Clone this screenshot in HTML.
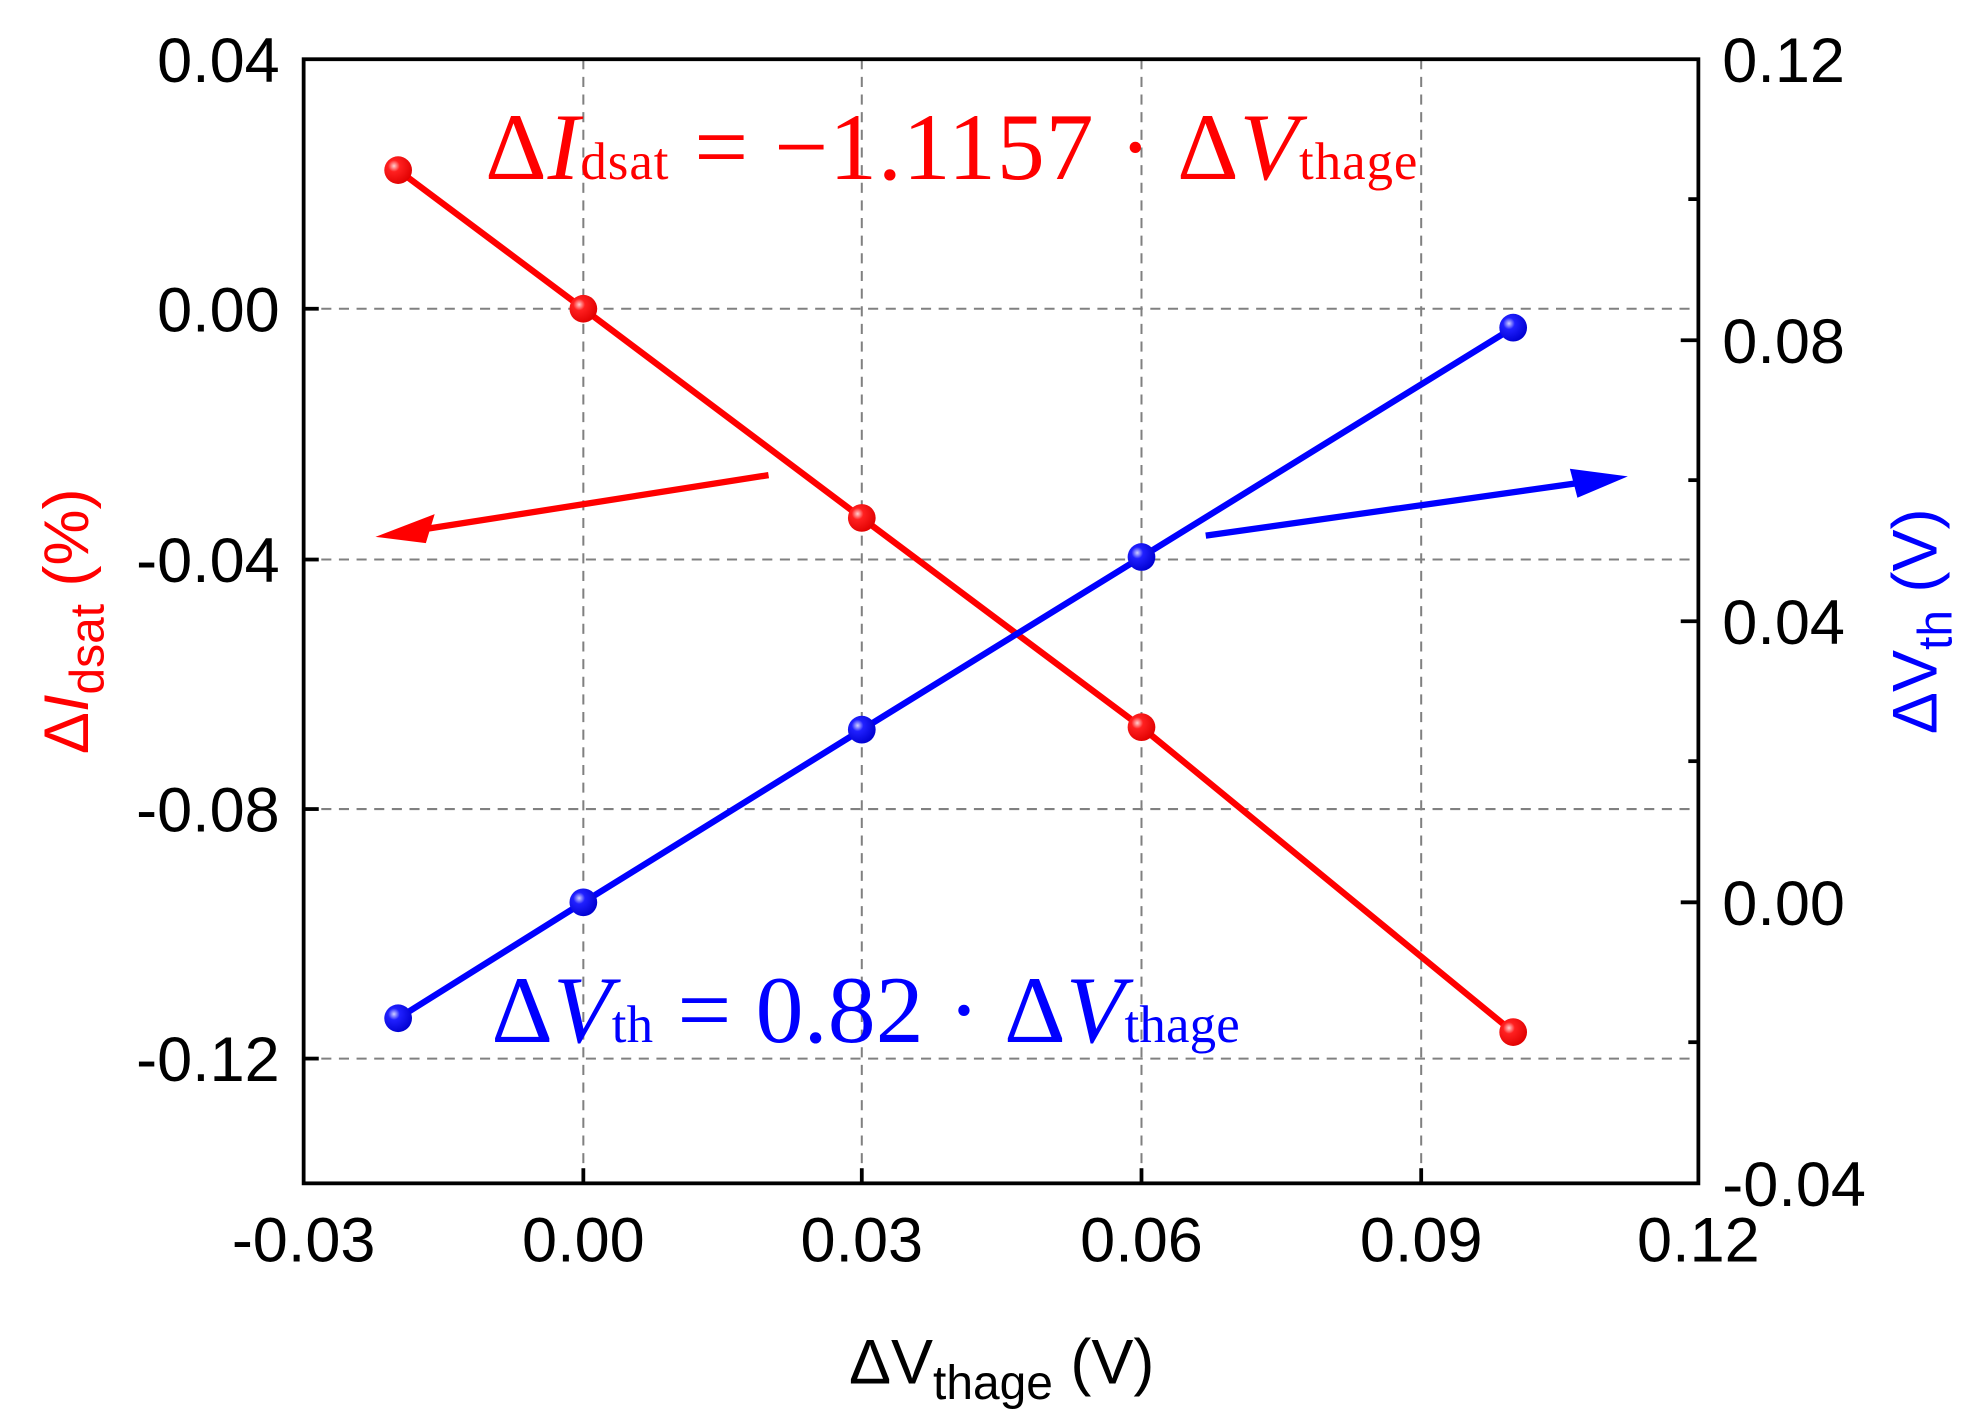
<!DOCTYPE html>
<html><head><meta charset="utf-8"><style>html,body{margin:0;padding:0;background:#fff}svg{display:block}</style></head>
<body>
<svg width="1968" height="1419" viewBox="0 0 1562 1126" preserveAspectRatio="none" xmlns="http://www.w3.org/2000/svg">
<defs>
<radialGradient id="gr" cx="0.35" cy="0.35" r="0.7"><stop offset="0" stop-color="#ffd0d0"/><stop offset="0.3" stop-color="#ff2020"/><stop offset="1" stop-color="#e00000"/></radialGradient>
<radialGradient id="gb" cx="0.35" cy="0.35" r="0.7"><stop offset="0" stop-color="#d0d0ff"/><stop offset="0.3" stop-color="#2020ff"/><stop offset="1" stop-color="#0000d0"/></radialGradient>
</defs>
<g stroke="#808080" stroke-width="1.6" stroke-dasharray="8,6" fill="none">
<line x1="463" y1="47" x2="463" y2="939"/><line x1="684" y1="47" x2="684" y2="939"/><line x1="906" y1="47" x2="906" y2="939"/><line x1="1128" y1="47" x2="1128" y2="939"/>
<line x1="241" y1="245" x2="1348" y2="245"/><line x1="241" y1="444" x2="1348" y2="444"/><line x1="241" y1="642" x2="1348" y2="642"/><line x1="241" y1="840" x2="1348" y2="840"/>
</g>
<rect x="241" y="47" width="1107" height="892" fill="none" stroke="#000" stroke-width="3"/>
<g stroke="#000" stroke-width="3">
<line x1="241" y1="245" x2="253" y2="245"/><line x1="241" y1="444" x2="253" y2="444"/><line x1="241" y1="642" x2="253" y2="642"/><line x1="241" y1="840" x2="253" y2="840"/>
<line x1="1348" y1="270" x2="1334" y2="270"/><line x1="1348" y1="493" x2="1334" y2="493"/><line x1="1348" y1="716" x2="1334" y2="716"/>
<line x1="1348" y1="158" x2="1340" y2="158"/><line x1="1348" y1="381" x2="1340" y2="381"/><line x1="1348" y1="604" x2="1340" y2="604"/><line x1="1348" y1="827" x2="1340" y2="827"/>
<line x1="463" y1="939" x2="463" y2="927"/><line x1="684" y1="939" x2="684" y2="927"/><line x1="906" y1="939" x2="906" y2="927"/><line x1="1128" y1="939" x2="1128" y2="927"/>
</g>
<g font-family="Liberation Sans, sans-serif" font-size="50" fill="#000">
<g text-anchor="end"><text x="222" y="65">0.04</text><text x="222" y="263">0.00</text><text x="222" y="462">-0.04</text><text x="222" y="660">-0.08</text><text x="222" y="858">-0.12</text></g>
<g text-anchor="start"><text x="1367" y="65">0.12</text><text x="1367" y="288">0.08</text><text x="1367" y="511">0.04</text><text x="1367" y="734">0.00</text><text x="1367" y="957">-0.04</text></g>
<g text-anchor="middle"><text x="241" y="1001">-0.03</text><text x="463" y="1001">0.00</text><text x="684" y="1001">0.03</text><text x="906" y="1001">0.06</text><text x="1128" y="1001">0.09</text><text x="1348" y="1001">0.12</text></g>
<text x="795" y="1098" text-anchor="middle">ΔV<tspan font-size="38" dy="12">thage</tspan><tspan dy="-12"> (V)</tspan></text>
<text transform="translate(70,493) rotate(-90)" text-anchor="middle" fill="#f00">Δ<tspan font-style="italic">I</tspan><tspan font-size="38" dy="12">dsat</tspan><tspan dy="-12"> (%)</tspan></text>
<text transform="translate(1537,493) rotate(-90)" text-anchor="middle" fill="#00f">ΔV<tspan font-size="38" dy="12">th</tspan><tspan dy="-12"> (V)</tspan></text>
</g>
<polyline points="316,135 463,245 684,411 906,577 1201,819" fill="none" stroke="#f00" stroke-width="5"/>
<polyline points="316,808 463,716 684,579 906,442 1201,260" fill="none" stroke="#00f" stroke-width="5"/>
<g fill="url(#gr)"><circle cx="316" cy="135" r="11"/><circle cx="463" cy="245" r="11"/><circle cx="684" cy="411" r="11"/><circle cx="906" cy="577" r="11"/><circle cx="1201" cy="819" r="11"/></g>
<g fill="url(#gb)"><circle cx="316" cy="808" r="11"/><circle cx="463" cy="716" r="11"/><circle cx="684" cy="579" r="11"/><circle cx="906" cy="442" r="11"/><circle cx="1201" cy="260" r="11"/></g>
<line x1="610" y1="377" x2="330" y2="421" stroke="#f00" stroke-width="5"/>
<polygon points="298,426 345,408 338,431" fill="#f00"/>
<line x1="957" y1="425" x2="1255" y2="383" stroke="#00f" stroke-width="5"/>
<polygon points="1292,378 1246,372 1252,395" fill="#00f"/>
<g font-family="Liberation Serif, serif" font-size="76">
<text x="385" y="142" fill="#f00" textLength="740" lengthAdjust="spacing">Δ<tspan font-style="italic">I</tspan><tspan font-size="42">dsat</tspan> = −1.1157 · Δ<tspan font-style="italic">V</tspan><tspan font-size="42">thage</tspan></text>
<text x="390" y="827" fill="#00f" textLength="594" lengthAdjust="spacing">Δ<tspan font-style="italic">V</tspan><tspan font-size="42">th</tspan> = 0.82 · Δ<tspan font-style="italic">V</tspan><tspan font-size="42">thage</tspan></text>
</g>
</svg>
</body></html>
